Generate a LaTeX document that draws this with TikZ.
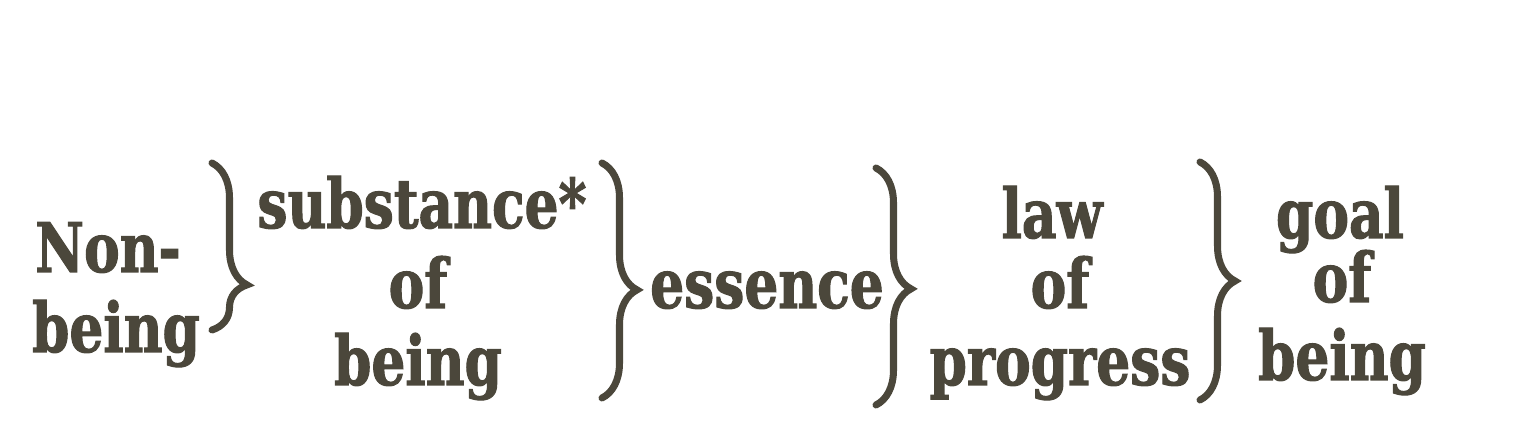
\documentclass[tikz,border=0pt]{standalone}
\usepackage{fontspec}
\usepackage{tikz}
\usetikzlibrary{positioning,decorations.pathreplacing}
\newfontfamily\heavy[FakeStretch=0.78, FakeBold=1.5]{DejaVu Serif Bold}
\definecolor{ink}{RGB}{75,71,59}
\tikzstyle{word} = [text=ink, font=\heavy\fontsize{39}{44}\selectfont, inner sep=0pt, anchor=base]
\tikzstyle{bracket} = [decorate, draw=ink, line width=4pt, line cap=round]

\begin{document}
\begin{tikzpicture}[x=0.02cm, y=-0.02cm]
			\useasboundingbox (0,0) rectangle (1515,431);
			
			\node[word] (non) at (108,272) {Non-};
			\node[word] (nonbeing) at (116,352) {being};
			
			\node[word] (subst) at (422,228) {substance*};
			\node[word] (substof) at (418,308) {of};
			\node[word] (substbeing) at (418,385) {being};
			
			\node[word] (essence) at (767,308) {essence};
			
			\node[word] (law) at (1052,238) {law};
			\node[word] (lawof) at (1060,308) {of};
			\node[word] (progress) at (1060,385) {progress};
			
			\node[word] (goal) at (1340,238) {goal};
			\node[word] (goalof) at (1342,302) {of};
			\node[word] (goalbeing) at (1342,380) {being};
			
			%braces
			\coordinate (b1top) at (212,163);
			\coordinate (b1bot) at (212,330);
			\coordinate (b2top) at (602,163);
			\coordinate (b2bot) at (602,398);
			\coordinate (b3top) at (876,168);
			\coordinate (b3bot) at (876,405);
			\coordinate (b4top) at (1200,162);
			\coordinate (b4bot) at (1200,400);
			\draw [bracket, decoration={brace, amplitude=0.7cm, aspect=0.73}] (b1top) -- (b1bot);
			\draw [bracket, decoration={brace, amplitude=0.7cm, aspect=0.54}] (b2top) -- (b2bot);
			\draw [bracket, decoration={brace, amplitude=0.7cm, aspect=0.51}] (b3top) -- (b3bot);
			\draw [bracket, decoration={brace, amplitude=0.7cm, aspect=0.5}] (b4top) -- (b4bot);
		\end{tikzpicture}
\end{document}
